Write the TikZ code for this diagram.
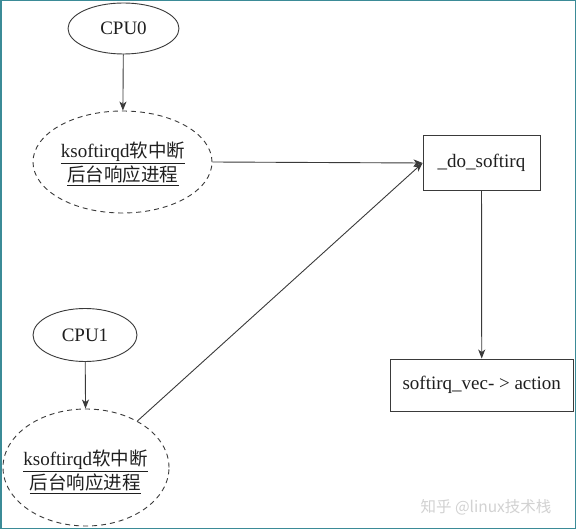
\documentclass[tikz,border=0pt]{standalone}
\usepackage{fontspec}
\setmainfont{Liberation Serif}
\newfontfamily\cjk{Noto Sans CJK SC}
\usetikzlibrary{shapes.geometric,arrows.meta}
\definecolor{linecol}{HTML}{3A3A3A}
\definecolor{framecol}{HTML}{3B8B97}
\definecolor{wmcol}{HTML}{D2D2D2}
\tikzset{
  every node/.style={font=\fontsize{19}{25}\selectfont, text=black!88},
  solidell/.style={ellipse, draw=linecol, line width=0.9pt, inner sep=0pt},
  dashell/.style={ellipse, draw=linecol, line width=0.9pt, inner sep=0pt, dash pattern=on 5pt off 4pt},
  procbox/.style={rectangle, draw=linecol, line width=0.9pt, inner sep=0pt},
  txt/.style={align=center, inner sep=0pt},
  conn/.style={draw=linecol, line width=0.9pt, -{Stealth[length=9pt,width=7pt,inset=2.5pt]}},
  wm/.style={font=\cjk\fontsize{15.5}{18}\selectfont, text=wmcol, inner sep=0pt}
}
\begin{document}
\begin{tikzpicture}[x=1pt,y=-1pt]
\fill[white] (0,0) rectangle (576,529);
\useasboundingbox (0,0) rectangle (576,529);
\draw[framecol, line width=1.5pt] (0.75,0.75) rectangle (575.25,528.25);

\node[solidell, minimum width=111pt, minimum height=51pt] (cpu0) at (123.5,28.5) {CPU0};
\node[dashell, minimum width=179pt, minimum height=102pt] (e1) at (122.5,162) {};
\node[txt] (e1t) at (123,164) {\underline{ksoftirqd{\cjk\fontsize{18.5}{25}\selectfont 软中断}}\\[-1pt]\underline{{\cjk\fontsize{18.5}{25}\selectfont 后台响应进程}}};

\node[solidell, minimum width=104pt, minimum height=53pt] (cpu1) at (85,335) {CPU1};
\node[dashell, minimum width=166pt, minimum height=117pt] (e2) at (86,467.5) {};
\node[txt] (e2t) at (85.5,472) {\underline{ksoftirqd{\cjk\fontsize{18.5}{25}\selectfont 软中断}}\\[-1pt]\underline{{\cjk\fontsize{18.5}{25}\selectfont 后台响应进程}}};

\node[procbox, minimum width=117pt, minimum height=55pt] (b1) at (481.5,163) {\_do\_softirq};
\node[procbox, minimum width=183.5pt, minimum height=52.6pt] (b2) at (481.75,385.3) {softirq\_vec- > action};

\node[wm] (wmk) at (486,507) {知乎 @linux技术栈};

\draw[conn] (cpu0) -- (e1);
\draw[conn] (cpu1) -- (e2);
\draw[conn] (e1.east) -- (b1.west);
\draw[conn] (e2) -- (b1.west);
\draw[conn] (b1) -- (b2);
\end{tikzpicture}
\end{document}
